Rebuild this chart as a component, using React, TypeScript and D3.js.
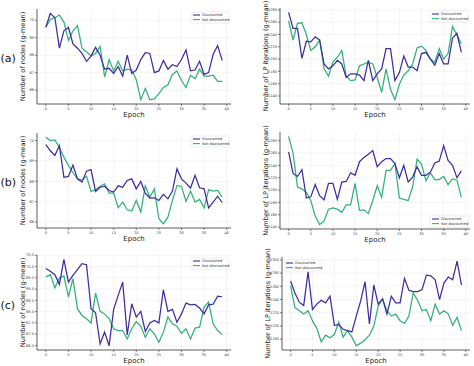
import React from "react";
import * as d3 from "d3";

const epochs = d3.range(40);
const xTicks = [0, 5, 10, 15, 20, 25, 30, 35, 40];

// (a) nodes
const aNodesDisc = [69.6, 70.4, 70.15, 68.4, 69.4, 69.6, 68.65, 68.4, 68.1, 67.65, 67.95, 68.45, 68.0, 67.2, 67.25, 66.95, 67.35, 66.8, 68.0, 66.95, 67.15, 67.75, 68.15, 68.1, 67.0, 67.1, 67.7, 67.2, 67.45, 67.35, 67.75, 68.3, 67.1, 67.15, 67.65, 66.9, 67.0, 68.05, 68.55, 67.7];
const aNodesNot = [69.6, 70.05, 70.15, 70.3, 69.9, 68.85, 69.4, 69.7, 68.4, 68.2, 67.95, 68.1, 68.5, 66.75, 67.75, 67.1, 67.65, 67.1, 67.2, 67.15, 66.6, 65.45, 66.1, 65.45, 65.5, 65.8, 66.15, 66.3, 66.9, 67.1, 66.55, 66.15, 66.85, 66.65, 67.2, 66.8, 66.8, 66.85, 66.5, 66.5];
// (a) LP iterations
const aLpDisc = [5276, 5250, 5250, 5201, 5229, 5228, 5236, 5231, 5192, 5184, 5189, 5198, 5192, 5170, 5176, 5176, 5174, 5165, 5198, 5165, 5176, 5184, 5217, 5217, 5165, 5178, 5205, 5187, 5187, 5181, 5209, 5211, 5200, 5190, 5209, 5192, 5192, 5234, 5242, 5211];
const aLpNot = [5262, 5231, 5258, 5259, 5240, 5214, 5220, 5231, 5184, 5172, 5195, 5203, 5214, 5172, 5165, 5166, 5189, 5192, 5195, 5192, 5170, 5146, 5184, 5151, 5134, 5159, 5174, 5181, 5192, 5218, 5221, 5214, 5200, 5195, 5217, 5200, 5209, 5253, 5239, 5225];
// (b) nodes
const bNodesDisc = [69.8, 69.5, 69.27, 69.75, 68.2, 68.24, 68.8, 68.12, 67.96, 68.5, 68.58, 67.5, 67.71, 67.76, 67.55, 67.47, 67.78, 67.71, 68.04, 68.12, 67.63, 67.99, 67.42, 67.18, 67.19, 67.06, 67.36, 67.14, 67.52, 68.61, 68.12, 67.91, 67.67, 68.29, 67.68, 67.63, 66.7, 66.98, 67.27, 66.96];
const bNodesNot = [70.16, 70.0, 70.03, 69.67, 69.18, 68.78, 68.42, 68.12, 68.07, 68.25, 67.5, 67.58, 67.76, 67.88, 67.42, 67.42, 66.7, 66.98, 66.6, 66.54, 67.06, 66.49, 67.78, 67.22, 67.63, 66.16, 65.92, 66.24, 67.06, 67.8, 67.75, 67.01, 67.52, 66.98, 67.11, 66.7, 67.58, 67.52, 67.55, 67.22];
// (b) LP iterations
const bLpDisc = [5262, 5227, 5222, 5233, 5187, 5189, 5209, 5191, 5184, 5211, 5211, 5185, 5213, 5214, 5228, 5224, 5246, 5253, 5258, 5264, 5238, 5246, 5251, 5251, 5243, 5220, 5240, 5213, 5221, 5238, 5224, 5224, 5229, 5244, 5247, 5272, 5248, 5240, 5220, 5231];
const bLpNot = [5287, 5260, 5205, 5202, 5196, 5183, 5158, 5144, 5150, 5169, 5171, 5169, 5164, 5176, 5176, 5211, 5167, 5168, 5162, 5183, 5207, 5188, 5232, 5232, 5243, 5187, 5185, 5183, 5205, 5250, 5242, 5215, 5228, 5217, 5217, 5222, 5209, 5218, 5216, 5188];
// (c) nodes
const cNodesDisc = [69.91, 69.79, 69.64, 69.21, 70.32, 69.31, 69.61, 69.86, 70.13, 70.08, 68.13, 67.95, 66.57, 67.09, 66.49, 68.1, 68.72, 69.31, 66.97, 68.35, 67.76, 68.01, 67.12, 67.5, 67.61, 67.5, 68.97, 68.01, 68.1, 67.53, 67.9, 68.38, 68.3, 68.32, 68.16, 67.9, 68.3, 68.33, 68.69, 68.66];
const cNodesNot = [69.54, 69.64, 69.06, 69.49, 69.58, 68.65, 69.46, 68.13, 67.83, 67.68, 67.5, 68.82, 68.01, 67.9, 67.68, 67.24, 67.16, 67.16, 66.79, 67.24, 67.56, 67.35, 66.86, 67.24, 67.01, 66.64, 67.09, 67.76, 67.46, 67.35, 67.04, 67.24, 66.79, 67.27, 67.31, 68.2, 68.42, 67.46, 67.16, 66.98];
// (c) LP iterations
const cLpDisc = [5268, 5250, 5236, 5231, 5282, 5225, 5233, 5239, 5235, 5245, 5201, 5202, 5195, 5193, 5191, 5215, 5238, 5267, 5203, 5262, 5233, 5241, 5218, 5245, 5235, 5235, 5272, 5254, 5252, 5252, 5255, 5277, 5276, 5270, 5240, 5265, 5274, 5270, 5298, 5262];
const cLpNot = [5261, 5228, 5223, 5218, 5223, 5208, 5196, 5176, 5186, 5182, 5187, 5206, 5183, 5193, 5183, 5170, 5174, 5179, 5186, 5200, 5230, 5241, 5223, 5215, 5218, 5208, 5204, 5215, 5250, 5239, 5223, 5225, 5208, 5233, 5218, 5223, 5218, 5201, 5213, 5193];

const nodeTicksAB = [66, 67, 68, 69, 70];
const nodeTicksC = [66.5, 67.0, 67.5, 68.0, 68.5, 69.0, 69.5, 70.0, 70.5];
const lpTicksAB = [5140, 5160, 5180, 5200, 5220, 5240, 5260, 5280];
const lpTicksC = [5180, 5200, 5220, 5240, 5260, 5280, 5300];

const seriesNames = ["Discounted", "Not discounted"];
const BLUE = "#3d2d9e";
const GREEN = "#33b07a";
const FONT = "DejaVu Sans, sans-serif";

type PanelProps = {
  left: number; right: number; top: number; bottom: number;
  disc: number[]; not: number[];
  yTicks: number[]; fmt: (v: number) => string;
  ylabel: string; legend: "tr" | "br" | "tl";
};

const Panel = ({ left, right, top, bottom, disc, not, yTicks, fmt, ylabel, legend }: PanelProps) => {
  const all = disc.concat(not);
  const [lo, hi] = d3.extent(all) as [number, number];
  const pad = (hi - lo) * 0.05;
  const x = d3.scaleLinear().domain([-1.95, 40.95]).range([left, right]);
  const y = d3.scaleLinear().domain([lo - pad, hi + pad]).range([bottom, top]);
  const line = d3.line<number>().x((_, i) => x(epochs[i])).y((d) => y(d));
  const lw = 38, lh = 11;
  const lx = legend === "tl" ? left + 2 : right - lw - 2;
  const ly = legend === "br" ? bottom - lh - 2 : top + 3;
  const yt = yTicks.filter((t) => y(t) >= top - 0.5 && y(t) <= bottom + 0.5);
  return (
    <g>
      {xTicks.map((t) => (
        <line key={"gx" + t} x1={x(t)} x2={x(t)} y1={top} y2={bottom} stroke="#ececec" strokeWidth={0.6} />
      ))}
      {yt.map((t) => (
        <line key={"gy" + t} x1={left} x2={right} y1={y(t)} y2={y(t)} stroke="#ececec" strokeWidth={0.6} />
      ))}
      <path d={line(not) ?? ""} fill="none" stroke={GREEN} strokeWidth={1.25} />
      <path d={line(disc) ?? ""} fill="none" stroke={BLUE} strokeWidth={1.25} />
      <line x1={left} x2={left} y1={top} y2={bottom} stroke="#333" strokeWidth={0.8} />
      <line x1={left} x2={right} y1={bottom} y2={bottom} stroke="#333" strokeWidth={0.8} />
      {xTicks.map((t) => (
        <g key={"tx" + t}>
          <line x1={x(t)} x2={x(t)} y1={bottom} y2={bottom + 2} stroke="#333" strokeWidth={0.6} />
          <text x={x(t)} y={bottom + 6} fontSize={3.6} textAnchor="middle" fill="#444" fontFamily={FONT}>{t}</text>
        </g>
      ))}
      {yt.map((t) => (
        <g key={"ty" + t}>
          <line x1={left - 2} x2={left} y1={y(t)} y2={y(t)} stroke="#333" strokeWidth={0.6} />
          <text x={left - 3} y={y(t) + 1.2} fontSize={3.6} textAnchor="end" fill="#444" fontFamily={FONT}>{fmt(t)}</text>
        </g>
      ))}
      <text x={(left + right) / 2} y={bottom + 13} fontSize={7} textAnchor="middle" fill="#222" fontFamily={FONT}>Epoch</text>
      <text transform={`translate(${left - 12},${(top + bottom) / 2}) rotate(-90)`} fontSize={6.6} textAnchor="middle" fill="#222" fontFamily={FONT}>{ylabel}</text>
      <g transform={`translate(${lx},${ly})`}>
        <rect width={lw} height={lh} fill="#fff" fillOpacity={0.85} stroke="#ddd" strokeWidth={0.5} rx={1} />
        {seriesNames.map((n, i) => (
          <g key={n} transform={`translate(2,${3 + i * 4.6})`}>
            <line x1={0} x2={7} y1={0} y2={0} stroke={i === 0 ? BLUE : GREEN} strokeWidth={1.1} />
            <text x={9} y={1.3} fontSize={3.6} fill="#333" fontFamily={FONT}>{n}</text>
          </g>
        ))}
      </g>
    </g>
  );
};

const intFmt = d3.format("d");
const decFmt = d3.format(".1f");

export default function App() {
  return (
    <svg width={474} height={366} style={{ position: "absolute", left: 0, top: 0, background: "#fff" }}>
      <Panel left={37} right={231} top={9} bottom={104} disc={aNodesDisc} not={aNodesNot} yTicks={nodeTicksAB} fmt={intFmt} ylabel="Number of nodes (g-mean)" legend="tr" />
      <Panel left={280} right={470} top={8} bottom={104} disc={aLpDisc} not={aLpNot} yTicks={lpTicksAB} fmt={intFmt} ylabel="Number of LP iterations (g-mean)" legend="tr" />
      <Panel left={37} right={231} top={133} bottom={228} disc={bNodesDisc} not={bNodesNot} yTicks={nodeTicksAB} fmt={intFmt} ylabel="Number of nodes (g-mean)" legend="tr" />
      <Panel left={280} right={470} top={132} bottom={229} disc={bLpDisc} not={bLpNot} yTicks={lpTicksAB} fmt={intFmt} ylabel="Number of LP iterations (g-mean)" legend="br" />
      <Panel left={37} right={231} top={255} bottom={350} disc={cNodesDisc} not={cNodesNot} yTicks={nodeTicksC} fmt={decFmt} ylabel="Number of nodes (g-mean)" legend="tr" />
      <Panel left={282} right={470} top={257} bottom={350} disc={cLpDisc} not={cLpNot} yTicks={lpTicksC} fmt={intFmt} ylabel="Number of LP iterations (g-mean)" legend="tl" />
      <text x={0.5} y={62} fontSize={11} fill="#111" fontFamily={FONT}>(a)</text>
      <text x={0.5} y={186} fontSize={11} fill="#111" fontFamily={FONT}>(b)</text>
      <text x={0.5} y={309} fontSize={11} fill="#111" fontFamily={FONT}>(c)</text>
    </svg>
  );
}
